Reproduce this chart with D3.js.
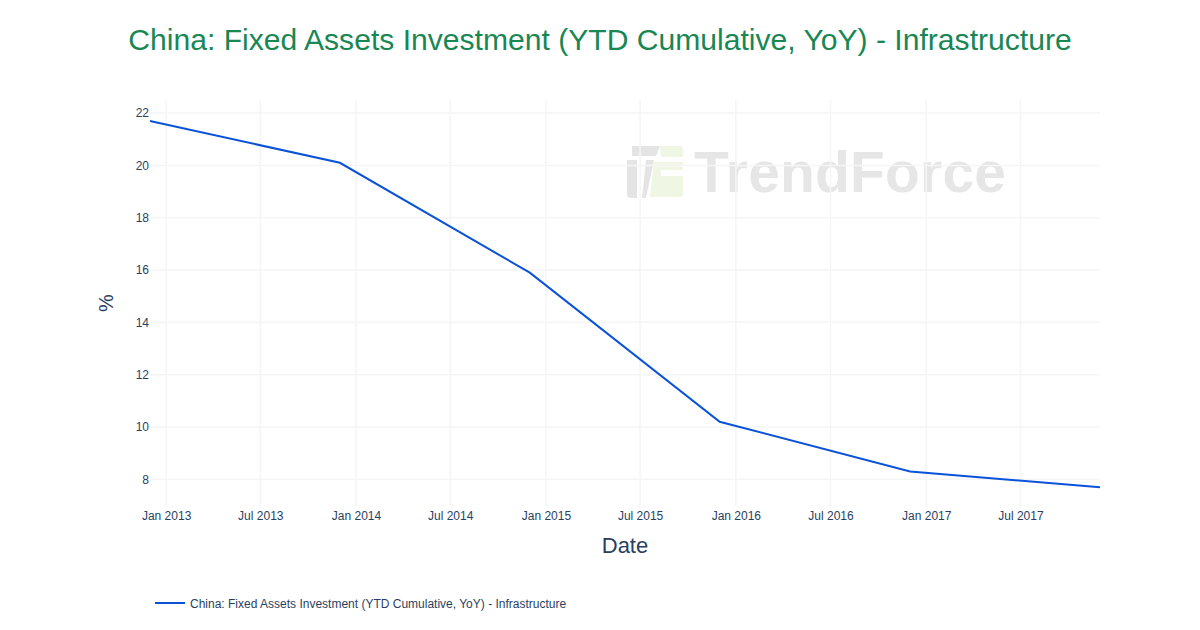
<!DOCTYPE html>
<html>
<head>
<meta charset="utf-8">
<script src="https://cdn.jsdelivr.net/npm/d3@7"></script>
<style>
  body { margin: 0; background: #fff; }
  text { font-family: "Liberation Sans", Arial, sans-serif; }
</style>
</head>
<body>
<div id="container"></div>
<script>
/* chart data */
const seriesName = "China: Fixed Assets Investment (YTD Cumulative, YoY) - Infrastructure"
const dates = ["2012-12-01", "2013-12-01", "2014-12-01", "2015-12-01", "2016-12-01", "2017-12-01"]
const values = [21.7, 20.1, 15.9, 10.2, 8.3, 7.7]
const yTicks = [8, 10, 12, 14, 16, 18, 20, 22]
const xTicks = ["2013-01-01", "2013-07-01", "2014-01-01", "2014-07-01", "2015-01-01",
                "2015-07-01", "2016-01-01", "2016-07-01", "2017-01-01", "2017-07-01"]

const width = 1200
const height = 630
const plot = {left: 150, right: 1100, top: 100, bottom: 506}
const LINECOLOR = "#0a52d8"
const AXISTEXT = "#2a3f5f"
const GRIDCOLOR = "#f5f5f5"

const parse = d3.timeParse("%Y-%m-%d")
const data = dates.map((d, i) => ({date: parse(d), value: values[i]}))

const svg = d3.select("#container")
              .append("svg")
              .attr("width", width)
              .attr("height", height);

const x = d3.scaleTime()
            .domain([parse(dates[0]), parse(dates[dates.length - 1])])
            .range([plot.left, plot.right]);
const y = d3.scaleLinear()
            .domain([6.98, 22.5])
            .range([plot.bottom, plot.top]);

/* watermark */
const wm = svg.append("g").attr("opacity", 0.75);
wm.append("path")
  .attr("d", "M632,146 h28 l-4,10 h-24 z M627,160 h10 v38 h-6 a4,4 0 0 1 -4,-4 z M646,160 h8 l-8,38 h-4 z")
  .attr("fill", "#dcdcdc");
wm.append("path")
  .attr("d", "M660,146 h20 a3,3 0 0 1 3,3 v8 h-22 z M654,162 h29 v8 h-22 v6 h22 v18 a3,3 0 0 1 -3,3 h-30 z")
  .attr("fill", "#eaf3dc");
wm.append("text")
  .attr("x", 694)
  .attr("y", 192)
  .attr("font-size", 57)
  .attr("font-weight", "bold")
  .attr("fill", "#dedede")
  .attr("textLength", 312)
  .text("TrendForce");

/* grid */
svg.append("g")
   .selectAll("line")
   .data(xTicks.map(parse))
   .enter()
   .append("line")
   .attr("x1", d => x(d)).attr("x2", d => x(d))
   .attr("y1", plot.top).attr("y2", plot.bottom)
   .attr("stroke", GRIDCOLOR)
   .attr("stroke-width", 1.5);
svg.append("g")
   .selectAll("line")
   .data(yTicks)
   .enter()
   .append("line")
   .attr("x1", plot.left).attr("x2", plot.right)
   .attr("y1", d => y(d)).attr("y2", d => y(d))
   .attr("stroke", GRIDCOLOR)
   .attr("stroke-width", 1.5);

/* axes */
const xAxis = d3.axisBottom(x)
                .tickValues(xTicks.map(parse))
                .tickFormat(d3.timeFormat("%b %Y"))
                .tickSize(0)
                .tickPadding(5);
const yAxis = d3.axisLeft(y)
                .tickValues(yTicks)
                .tickSize(0)
                .tickPadding(1);
const gx = svg.append("g")
              .attr("transform", "translate(0," + plot.bottom + ")")
              .call(xAxis);
const gy = svg.append("g")
              .attr("transform", "translate(" + plot.left + ",0)")
              .call(yAxis);
[gx, gy].forEach(g => {
  g.select(".domain").remove();
  g.selectAll("text")
   .attr("fill", AXISTEXT)
   .attr("font-size", 12)
   .style("font-family", "'Liberation Sans', Arial, sans-serif");
});

/* line */
svg.append("path")
   .datum(data)
   .attr("fill", "none")
   .attr("stroke", LINECOLOR)
   .attr("stroke-width", 2)
   .attr("d", d3.line().x(d => x(d.date)).y(d => y(d.value)));

/* titles */
svg.append("text")
   .attr("x", 600)
   .attr("y", 50)
   .attr("text-anchor", "middle")
   .attr("font-size", 30.1)
   .attr("fill", "#198754")
   .text(seriesName);
svg.append("text")
   .attr("x", 625)
   .attr("y", 553)
   .attr("text-anchor", "middle")
   .attr("font-size", 22)
   .attr("fill", AXISTEXT)
   .text("Date");
svg.append("text")
   .attr("transform", "translate(113," + ((plot.top + plot.bottom) / 2) + ") rotate(-90)")
   .attr("text-anchor", "middle")
   .attr("font-size", 20)
   .attr("fill", AXISTEXT)
   .text("%");

/* legend */
const legend = svg.append("g").attr("transform", "translate(155,603)");
legend.append("line")
      .attr("x1", 0).attr("x2", 30)
      .attr("stroke", LINECOLOR)
      .attr("stroke-width", 2);
legend.append("text")
      .attr("x", 35)
      .attr("y", 5)
      .attr("font-size", 12)
      .attr("fill", AXISTEXT)
      .text(seriesName);
</script>
</body>
</html>
